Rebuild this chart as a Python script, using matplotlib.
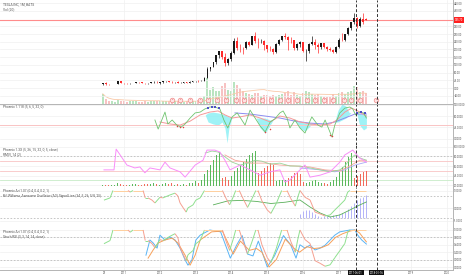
import numpy as np
import pandas as pd
import matplotlib
matplotlib.use("Agg")
import matplotlib.pyplot as plt
from matplotlib.collections import LineCollection

W, H = 466, 275
PX_PER_YEAR = 35.9
X2011 = 123.7
AX_RIGHT = 453
T0 = 2011 - X2011 / PX_PER_YEAR
T1 = 2011 + (AX_RIGHT - X2011) / PX_PER_YEAR

# ---------------- price data: monthly candles, Jun 2010 .. Oct 2017 ----------------
start_year, start_month = 2010, 6
opens = [19.0, 25.0, 20.0, 19.5, 20.5, 21.8, 35.0,
         26.8, 24.1, 23.9, 26.7, 27.6, 30.0, 29.2, 27.3, 24.4, 24.4, 29.4, 32.7,
         28.5, 29.1, 33.8, 37.2, 33.1, 29.5, 31.3, 27.0, 28.1, 29.3, 28.1, 32.9,
         33.9, 37.5, 34.8, 37.9, 54.0, 97.8, 107.4, 134.3, 169.0, 193.4, 160.0, 127.3,
         150.4, 181.4, 244.8, 208.5, 207.9, 207.8, 240.1, 223.3, 269.7, 242.7, 241.7, 244.5,
         222.4, 203.6, 203.3, 188.8, 226.0, 250.8, 268.3, 266.2, 249.1, 248.4, 206.9, 230.3,
         240.0, 191.2, 191.9, 229.8, 240.8, 223.2, 212.3, 234.8, 212.0, 204.0, 197.7, 189.4,
         213.7, 251.9, 250.0, 278.3, 314.1, 341.0, 361.6, 323.5, 355.9, 360.0]
highs = [25.0, 30.4, 21.0, 22.0, 22.0, 36.4, 35.5,
         28.0, 25.5, 28.0, 28.2, 31.0, 31.0, 30.0, 27.5, 26.0, 30.5, 35.0, 34.0,
         29.7, 35.5, 38.0, 38.0, 35.0, 33.5, 35.0, 30.5, 30.0, 30.5, 34.0, 35.0,
         38.0, 40.0, 39.0, 55.5, 110.0, 110.0, 136.0, 170.0, 194.5, 194.0, 181.0, 156.0,
         190.0, 260.0, 265.0, 230.0, 215.0, 243.0, 245.0, 272.0, 291.4, 262.0, 256.0, 248.0,
         223.0, 218.0, 208.0, 232.0, 256.0, 271.0, 286.0, 270.0, 266.0, 250.0, 233.0, 245.0,
         241.0, 201.0, 234.0, 269.0, 255.0, 236.0, 235.0, 236.0, 220.0, 214.0, 204.0, 220.0,
         260.0, 287.0, 281.0, 316.0, 342.0, 387.0, 368.0, 370.0, 389.6, 364.0]
lows = [17.5, 15.0, 17.0, 18.8, 19.5, 21.0, 26.0,
        22.0, 21.6, 21.5, 23.5, 26.5, 26.0, 26.5, 21.0, 22.5, 23.5, 28.0, 26.5,
        22.5, 28.5, 33.0, 32.0, 27.0, 28.0, 25.5, 26.5, 27.5, 26.0, 27.0, 32.0,
        33.0, 33.0, 34.0, 36.0, 54.0, 90.0, 107.0, 126.0, 158.0, 153.0, 116.1, 118.0,
        139.0, 178.0, 199.0, 187.0, 176.0, 201.0, 216.0, 222.0, 236.0, 207.0, 233.0, 196.0,
        185.0, 191.0, 178.0, 183.0, 222.0, 243.0, 253.0, 195.0, 236.0, 195.0, 199.0, 211.0,
        186.0, 141.1, 180.0, 224.0, 204.0, 182.0, 201.0, 209.0, 194.0, 194.0, 181.0, 183.0,
        210.0, 243.0, 244.0, 277.0, 299.0, 330.0, 313.0, 315.0, 335.0, 352.0]
closes = [23.9, 19.9, 19.5, 20.4, 21.8, 35.3, 26.6,
          24.1, 23.9, 26.7, 27.6, 30.2, 29.1, 27.3, 24.4, 24.4, 29.4, 32.7, 28.6,
          29.1, 33.8, 37.2, 33.1, 29.5, 31.3, 27.0, 28.1, 29.3, 28.1, 32.9, 33.9,
          37.5, 34.8, 37.9, 54.0, 97.8, 107.4, 134.3, 169.0, 193.4, 159.9, 127.3, 150.4,
          181.4, 244.8, 208.5, 207.9, 207.8, 240.1, 223.3, 269.7, 242.7, 241.7, 244.5, 222.4,
          203.6, 203.3, 188.8, 226.1, 250.8, 268.3, 266.2, 249.1, 248.4, 206.9, 230.3, 240.0,
          191.2, 191.9, 229.8, 240.8, 223.2, 212.3, 234.8, 212.0, 204.0, 197.7, 189.4, 213.7,
          251.9, 250.0, 278.3, 314.1, 341.0, 361.6, 323.5, 355.9, 341.1, 355.7]
volumes = [105, 45, 25, 22, 18, 40, 30,
           25, 20, 28, 22, 25, 20, 18, 22, 20, 25, 22, 24,
           28, 30, 25, 22, 30, 28, 30, 22, 20, 22, 30, 25,
           25, 40, 30, 80, 280, 150, 180, 130, 140, 190, 220, 150,
           140, 230, 200, 170, 130, 110, 100, 90, 110, 110, 80, 90,
           90, 85, 90, 80, 95, 100, 110, 130, 95, 120, 90, 80,
           110, 140, 120, 105, 90, 100, 80, 75, 70, 75, 100, 85,
           110, 120, 105, 120, 130, 190, 180, 120, 130, 110]
last_price = 355.70
earnings_t = [2012.35, 2012.58, 2012.85, 2013.13, 2013.35, 2013.60, 2013.85, 2014.13,
              2014.35, 2014.58, 2014.85, 2015.11, 2015.35, 2015.59, 2015.84, 2016.11,
              2016.34, 2016.59, 2016.82, 2017.14, 2017.34, 2017.58, 2018.04]

# ---------------- Phoenix 1.118 panel ----------------
p2_green_t = [2011.87, 2011.96, 2012.15, 2012.23, 2012.35, 2012.48, 2012.60, 2012.71, 2012.85, 2012.99,
              2013.13, 2013.26, 2013.40, 2013.54, 2013.68, 2013.79, 2013.90,
              2014.02, 2014.16, 2014.27, 2014.38, 2014.52, 2014.66, 2014.80, 2014.94,
              2015.08, 2015.21, 2015.35, 2015.44, 2015.55, 2015.63, 2015.77, 2015.91,
              2016.05, 2016.13, 2016.24, 2016.41, 2016.52, 2016.61, 2016.80, 2016.88,
              2017.02, 2017.16, 2017.30, 2017.38, 2017.46, 2017.57, 2017.68, 2017.76]
p2_green_v = [66, 34, 94, 52, 66, 48, 41, 52, 73, 91,
              94, 105, 112, 112, 105, 66, 38,
              77, 91, 70, 48, 101, 73, 45, 24,
              59, 70, 91, 98, 73, 38, 66, 38,
              20, 45, 77, 48, 41, 66, 6, 48,
              91, 108, 112, 105, 84, 94, 91, 73]
p2_red_t = [2012.01, 2012.29, 2012.57, 2012.85, 2013.13, 2013.40, 2013.63, 2013.82, 2014.02, 2014.24,
            2014.52, 2014.80, 2015.08, 2015.35, 2015.63, 2015.91, 2016.19, 2016.47, 2016.75, 2016.94,
            2017.16, 2017.35, 2017.52, 2017.76]
p2_red_v = [59, 52, 48, 62, 84, 94, 98, 84, 73, 77, 84, 73, 59, 80, 73, 59, 52, 48, 52, 66, 94, 108, 98, 80]
p2_purple_t = [2014.10, 2014.52, 2014.94, 2015.35, 2015.77, 2016.19, 2016.61, 2016.88, 2017.16, 2017.44, 2017.76]
p2_purple_v = [91, 87, 80, 73, 62, 55, 52, 59, 73, 87, 87]
p2_cyan_t = [2013.27, 2013.35, 2013.49, 2013.63, 2013.74, 2013.82, 2013.88, 2013.93, 2014.02,
             2014.69, 2014.80, 2014.94, 2015.08, 2015.16, 2015.80, 2015.91, 2016.05, 2016.19, 2016.27,
             2016.88, 2016.97, 2017.08, 2017.19, 2017.27, 2017.33, 2017.49, 2017.57, 2017.68, 2017.76]
p2_cyan_top = [84, 91, 94, 91, 87, 84, 80, 77, 77, 73, 73, 73, 66, 66, 62, 59, 55, 55, 55,
               59, 101, 122, 115, 94, 91, 91, 87, 87, 84]
p2_cyan_bot = [84, 59, 52, 48, 59, 38, -15, 38, 77, 73, 38, 20, 48, 66, 62, 38, 27, 45, 55,
               59, 59, 66, 73, 84, 91, 91, 48, 31, 38]
p2_reddot_t = [2012.48, 2012.57, 2012.65, 2014.94, 2015.08, 2016.75, 2016.80]
p2_reddot_v = [45, 41, 43, 22, 33, 12, 8]
p2_bluedot_t = [2013.35, 2013.45, 2013.55, 2013.65, 2017.49, 2017.60, 2017.72]
p2_bluedot_v = [110, 111, 111, 110, 90, 94, 91]

# ---------------- Phoenix 1.3X / RMVI panel ----------------
p3_mag_t = [2010.45, 2010.73, 2010.79, 2010.90, 2011.09, 2011.31, 2011.45, 2011.59, 2011.73, 2012.01,
            2012.15, 2012.29, 2012.57, 2012.71, 2012.99, 2013.21, 2013.32, 2013.54, 2013.68, 2013.82,
            2013.96, 2014.24, 2014.52, 2014.80, 2015.08, 2015.35, 2015.49, 2015.63, 2015.91, 2016.05,
            2016.19, 2016.47, 2016.75, 2017.02, 2017.16, 2017.38, 2017.57, 2017.76]
p3_mag_v = [52, 52, 95, 83, 62, 56, 58, 46, 56, 52,
            68, 56, 48, 37, 62, 72, 93, 93, 89, 72,
            52, 62, 52, 41, 48, 52, 27, 31, 52, 62,
            37, 41, 48, 68, 83, 93, 77, 68]
p3_green_t = [2013.27, 2013.46, 2013.63, 2013.82, 2014.02, 2014.24, 2014.46, 2014.66, 2014.85, 2015.08,
              2015.35, 2015.63, 2015.91, 2016.19, 2016.47, 2016.75, 2017.02, 2017.16, 2017.30, 2017.44,
              2017.57, 2017.76]
p3_green_v = [87, 91, 89, 79, 68, 62, 66, 72, 70, 64, 66, 60, 60, 56, 52, 48, 52, 60, 74, 83, 77, 72]
p3_salmon_t = [2013.82, 2014.10, 2014.52, 2014.94, 2015.35, 2015.77, 2016.19, 2016.61, 2017.02, 2017.30,
               2017.57, 2017.76]
p3_salmon_v = [83, 72, 66, 66, 62, 60, 58, 52, 50, 60, 72, 72]
p3_lav_t = [2015.91, 2016.47, 2016.88, 2017.16, 2017.44, 2017.76]
p3_lav_v = [56, 52, 48, 52, 62, 68]
p3_hist = [3, -2, -2, 2, 3, 6, -4,
           -3, -2, 3, 4, 5, -3, -3, -5, -4, 4, 6, -4,
           3, 5, 7, -4, -6, 3, -5, 3, 4, -3, 6, 7,
           10, -6, 12, 25, 34, 44, 54, 65, 71, -17, -20, -14,
           22, 32, 38, 44, 50, 57, 64, 70, 73, -27, -32, -37,
           -42, -48, -44, 10, 12, 14, 12, -17, -22, -27, -30, -26,
           -8, 6, 8, 10, 12, 9, 7, -6, -5, 8, 12, 20,
           30, 40, 50, 60, 69, -17, -22, -26, -29, -32]
p3_hist_base = 18

# ---------------- Phoenix Ari (0..1, shown in panels 4 & 5) ----------------
ari_t = [2010.45, 2010.62, 2010.70, 2011.12, 2011.18, 2011.26, 2011.54, 2011.60, 2011.68, 2011.79,
         2011.87, 2012.01, 2012.09, 2012.29, 2012.43, 2012.51, 2012.57, 2012.66, 2012.74, 2012.79,
         2012.93, 2013.01, 2013.13, 2013.25, 2013.75, 2013.85, 2013.95, 2014.05, 2014.12, 2014.22,
         2014.32, 2014.45, 2014.58, 2014.68, 2014.74, 2014.85, 2015.00, 2015.10, 2015.25, 2015.40,
         2015.55, 2015.65, 2015.78, 2015.85, 2015.91, 2016.05, 2016.19, 2016.33, 2016.47, 2016.61,
         2016.75, 2016.88, 2017.02, 2017.16, 2017.24, 2017.30, 2017.76]
ari_v = [0.63, 0.715, 1.0, 1.0, 0.94, 1.0, 1.0, 0.715, 0.715, 0.63,
         0.52, 0.74, 0.715, 0.83, 0.90, 0.79, 0.52, 0.33, 0.17, 0.33,
         0.445, 0.63, 0.715, 1.0, 1.0, 0.70, 0.45, 0.75, 1.0, 1.0,
         0.70, 0.35, 0.70, 1.0, 1.0, 0.60, 0.25, 0.12, 0.50, 1.0,
         1.0, 0.70, 0.40, 0.75, 1.0, 0.74, 0.635, 0.17, 0.10, 0.02,
         0.06, 0.25, 0.44, 0.635, 0.94, 1.0, 1.0]
ao_t = [2013.50, 2013.90, 2014.30, 2014.70, 2015.10, 2015.50, 2015.91, 2016.19, 2016.47, 2016.75,
        2017.02, 2017.30, 2017.57, 2017.76]
ao_v = [0.45, 0.60, 0.62, 0.58, 0.50, 0.55, 0.635, 0.365, 0.135, -0.02, 0.06, 0.25, 0.44, 0.56]
ao_bar_t = [2015.92, 2016.00, 2016.08, 2016.17, 2016.25, 2016.33, 2016.42, 2016.50, 2016.58, 2016.67,
            2016.75, 2016.83, 2016.92, 2017.00, 2017.08, 2017.17, 2017.25, 2017.33, 2017.42, 2017.50,
            2017.58, 2017.67, 2017.75]
ao_bar_v = [0.10, 0.20, 0.25, 0.25, 0.18, 0.10, 0.02, -0.02, 0.00, 0.02,
            0.03, 0.04, 0.06, 0.08, 0.12, 0.18, 0.28, 0.40, 0.52, 0.62,
            0.70, 0.76, 0.83]
ao_base = -0.06
ao_upper = 0.79

# ---------------- Stoch RSI ----------------
k_t = [2011.62, 2011.73, 2011.82, 2011.93, 2012.01, 2012.15, 2012.29, 2012.43, 2012.57, 2012.71,
       2012.79, 2012.90, 2013.01, 2013.13, 2013.40, 2013.70, 2013.97, 2014.15, 2014.30, 2014.45,
       2014.60, 2014.75, 2015.00, 2015.20, 2015.45, 2015.65, 2015.80, 2015.91, 2016.05, 2016.19,
       2016.33, 2016.47, 2016.61, 2016.75, 2016.88, 2017.02, 2017.30, 2017.44, 2017.52, 2017.63,
       2017.76]
k_v = [0.32, 0.73, 0.65, 0.51, 0.86, 0.73, 0.81, 0.73, 0.51, 0.19,
       0.05, 0.19, 0.73, 0.86, 1.0, 0.95, 0.24, 0.60, 0.85, 0.35,
       0.30, 0.70, 0.0, 0.30, 0.85, 0.60, 0.24, 0.60, 0.51, 0.59,
       0.46, 0.51, 0.59, 0.73, 0.86, 0.95, 1.0, 1.0, 0.86, 0.73,
       0.62]
d_t = [2011.68, 2011.82, 2011.96, 2012.15, 2012.35, 2012.51, 2012.71, 2012.85, 2012.99, 2013.13,
       2013.45, 2013.75, 2014.05, 2014.25, 2014.50, 2014.70, 2014.85, 2015.05, 2015.25, 2015.50,
       2015.75, 2015.90, 2016.10, 2016.30, 2016.50, 2016.70, 2016.90, 2017.10, 2017.30, 2017.44,
       2017.57, 2017.76]
d_v = [0.24, 0.46, 0.65, 0.73, 0.78, 0.65, 0.32, 0.05, 0.32, 0.73,
       0.95, 0.97, 0.35, 0.70, 0.45, 0.50, 0.40, 0.0, 0.20, 0.75,
       0.50, 0.40, 0.55, 0.50, 0.52, 0.60, 0.80, 0.90, 0.97, 1.0,
       0.92, 0.68]

# ---------------- labels ----------------
year_ticks = [2010.45, 2011, 2012, 2013, 2014, 2015, 2016, 2017, 2019, 2020]
year_labels = ["28", "2011", "2012", "2013", "2014", "2015", "2016", "2017", "2019", "2020"]
marker_dates = [2017.474, 2018.045]
marker_labels = ["2017-06-01", "2018-01-16"]

# =====================================================================
plt.rcParams['font.family'] = ['Roboto', 'DejaVu Sans']
fig = plt.figure(figsize=(W / 100, H / 100), dpi=100)
FS = 2.3      # legend / title text
FSA = 2.0     # axis labels
TXT = '#555555'
SEP = '#b4b4b4'


def style_y(ax, ticks, fmt):
    ax.yaxis.tick_right()
    ax.set_yticks(ticks)
    ax.set_yticklabels([fmt.format(v) for v in ticks])
    ax.tick_params(axis='y', labelsize=FSA, length=0, pad=0.8, colors=TXT,
                   left=False, labelleft=False, right=True, labelright=True)


def panel(y0, y1, ylim, ticks, fmt):
    ax = fig.add_axes([0, 1 - y1 / H, AX_RIGHT / W, (y1 - y0) / H])
    ax.set_xlim(T0, T1)
    ax.set_ylim(*ylim)
    for s in ('top', 'left'):
        ax.spines[s].set_visible(False)
    for s in ('right', 'bottom'):
        ax.spines[s].set_color(SEP)
        ax.spines[s].set_linewidth(0.7)
    style_y(ax, ticks, fmt)
    ax.set_xticks(year_ticks[1:])
    ax.tick_params(axis='x', length=0, labelbottom=False)
    ax.grid(True, color='#f0f0f0', lw=0.5)
    ax.set_axisbelow(True)
    for d in marker_dates:
        ax.axvline(d, color='#333333', lw=0.7, ls=(0, (3, 2)), zorder=6)
    return ax


def ftxt(x, y, s, **kw):
    fig.text(x / W, 1 - y / H, s, **kw)


# ---- panel 1: price ----
price_ticks = [440, 400, 320, 280, 240, 200, 160, 120, 80, 40, 0, -40]
ax1 = panel(0, 103.5, (-80.5, 457.1), price_ticks, "{:.2f}")
t_bars = np.array([start_year + (start_month - 1 + i) / 12 for i in range(len(closes))])
o = np.array(opens); c = np.array(closes); hi = np.array(highs); lo = np.array(lows)
up = c >= o
ccol = np.where(up, '#1a1a1a', '#ff2b2b')
bw = 1.9 / PX_PER_YEAR
# volume overlay
axv = ax1.twinx()
axv.set_ylim(0, max(volumes) * 4.0)
axv.axis('off')
axv.set_xlim(T0, T1)
style_y(ax1, price_ticks, "{:.2f}")   # twinx moves ticks left; put them back on the right
vcol = np.where(up, '#b9e4c0', '#f7c2c2')
axv.bar(t_bars, volumes, width=bw * 1.05, color=vcol, lw=0, zorder=1)
vma = pd.Series(volumes, dtype=float).rolling(20, min_periods=1).mean()
axv.plot(t_bars, vma, color='#f9c9a8', lw=0.6, zorder=2)
ax1.set_zorder(axv.get_zorder() + 1)
ax1.patch.set_visible(False)
ax1.vlines(t_bars, lo, hi, color=ccol, lw=0.5, zorder=3)
ax1.bar(t_bars, np.maximum(np.abs(c - o), 1.0), bottom=np.minimum(o, c), width=bw,
        color=ccol, lw=0, zorder=4)
ax1.axhline(last_price, color='#ff8c8c', lw=0.8, zorder=2)
ax1.scatter(earnings_t, [-62] * len(earnings_t), s=11, facecolor='#fde3e3',
            edgecolor='#f08a8a', lw=0.5, zorder=5)
for et in earnings_t:
    ax1.text(et, -62, "E", fontsize=1.5, color='#e06060', ha='center', va='center', zorder=6)
ftxt(3, 4, "TESLA INC, 1M, BATS", fontsize=FS, color=TXT, va='center')
ftxt(3, 9.5, "Vol (20)", fontsize=FS, color=TXT, va='center')
ftxt(AX_RIGHT + 1.8, 20, f"{last_price:.2f}", fontsize=FSA, color='white', va='center',
     bbox=dict(boxstyle='square,pad=0.3', fc='#ff2020', ec='none'), zorder=10)

# ---- panel 2: Phoenix 1.118 ----
ax2 = panel(103.5, 144.5, (-20.5, 124.3), [120, 80, 40, 0], "{:.4f}")
ax2.axhline(50, color='#f9c4c4', lw=0.7)
ax2.fill_between(p2_cyan_t, p2_cyan_top, p2_cyan_bot, color='#8ef0f5', lw=0, alpha=0.85)
ax2.plot(p2_purple_t, p2_purple_v, color='#8c8cf0', lw=0.7)
ax2.plot(p2_red_t, p2_red_v, color='#f59a9a', lw=0.7)
ax2.plot(p2_green_t, p2_green_v, color='#6fc46f', lw=0.6)
ax2.scatter(p2_reddot_t, p2_reddot_v, s=1.2, color='#e04040', lw=0, zorder=5)
ax2.scatter(p2_bluedot_t, p2_bluedot_v, s=1.5, color='#5050c8', marker='s', lw=0, zorder=5)
ftxt(3, 106.5, "Phoenix 1.118 (5, 6, 5, 32, 0)", fontsize=FS, color=TXT, va='center')

# ---- panel 3: Phoenix 1.3X / RMVI ----
ax3 = panel(144.5, 187, (16.5, 104.6), [100, 80, 60, 40, 20], "{:.4f}")
ax3.axhline(80, color='#bdbdbd', lw=0.6, ls=(0, (2, 2)))
ax3.axhline(70, color='#f9c4c4', lw=0.6)
ax3.axhline(50, color='#f9c4c4', lw=0.6)
ax3.axhline(30, color='#c8ebc8', lw=0.6)
h = np.array(p3_hist, dtype=float)
hcol = np.where(h >= 0, '#5cb85c', '#f26b5b')
ax3.bar(t_bars, np.abs(h), bottom=p3_hist_base, width=bw * 0.55, color=hcol, lw=0, zorder=2)
ax3.plot(p3_lav_t, p3_lav_v, color='#a9a9f5', lw=0.6, zorder=3)
ax3.plot(p3_salmon_t, p3_salmon_v, color='#f5a59a', lw=0.6, zorder=3)
ax3.plot(p3_green_t, p3_green_v, color='#9ad49a', lw=0.6, zorder=3)
ax3.plot(p3_mag_t, p3_mag_v, color='#f98ef9', lw=0.7, zorder=4)
ftxt(3, 149.5, "Phoenix 1.3X (5, 36, 15, 32, 0, 5, close)", fontsize=FS, color=TXT, va='center')
ftxt(3, 154, "RMVI_14 (2)", fontsize=FS, color=TXT, va='center')


def ari_line(ax, t, v):
    t = np.asarray(t); v = np.asarray(v)
    segs = [[(t[i], v[i]), (t[i + 1], v[i + 1])] for i in range(len(t) - 1)]
    cols = []
    for i in range(len(t) - 1):
        if v[i] >= 0.99 and v[i + 1] >= 0.99:
            cols.append('#ffcf9e')
        elif v[i + 1] >= v[i]:
            cols.append('#8fe08f')
        else:
            cols.append('#f5a091')
    ax.add_collection(LineCollection(segs, colors=cols, linewidths=0.7, zorder=4))


# ---- panel 4: Ari + AO signal ----
ax4 = panel(187, 227, (-0.404, 1.135), [1.0, 0.327, -0.173], "{:.4f}")
ax4.set_yticklabels(["1.0000", "0.0000", "-1.0000"])
ax4.axhline(ao_upper, color='#bdbdbd', lw=0.6, ls=(0, (2, 2)))
ax4.axhline(ao_base, color='#bdbdbd', lw=0.6, ls=(0, (2, 2)))
ax4.vlines(ao_bar_t, ao_base, ao_bar_v, color='#a7a7f7', lw=0.6, zorder=2)
ax4.plot(ao_t, ao_v, color='#5aaf5a', lw=0.6, zorder=3)
ari_line(ax4, ari_t, ari_v)
ftxt(3, 190.5, "Phoenix Ari 1.07 (0.4, 0.4, 0.2, 1)", fontsize=FS, color=TXT, va='center')
ftxt(3, 195.5, "Bill Williams, Awesome Oscillator (AO) Signal Line (34, 5, 26, 5/8, 25)",
     fontsize=FS, color=TXT, va='center')

# ---- panel 5: Ari + Stoch RSI ----
ax5 = panel(227, 270, (-0.081, 1.081), [1.0, 0.8, 0.6, 0.4, 0.2, 0.0], "{:.4f}")
ax5.axhline(0.8, color='#bdbdbd', lw=0.6, ls=(0, (2, 2)))
ax5.axhline(0.2, color='#bdbdbd', lw=0.6, ls=(0, (2, 2)))
ax5.plot(k_t, k_v, color='#5ab4f5', lw=0.7, zorder=3)
ax5.plot(d_t, d_v, color='#f7a05a', lw=0.7, zorder=3)
ari_line(ax5, ari_t, ari_v)
ftxt(3, 231.5, "Phoenix Ari 1.07 (0.4, 0.4, 0.2, 1)", fontsize=FS, color=TXT, va='center')
ftxt(3, 236.5, "Stoch RSI (3, 3, 14, 14, close)", fontsize=FS, color=TXT, va='center')

# ---- time axis labels ----
for yt, lab in zip(year_ticks, year_labels):
    xp = X2011 + (yt - 2011) * PX_PER_YEAR
    ftxt(xp, 272.5, lab, fontsize=FSA, color=TXT, ha='center', va='center')
for d, lab in zip(marker_dates, marker_labels):
    xp = X2011 + (d - 2011) * PX_PER_YEAR
    ftxt(xp, 272.5, lab, fontsize=FSA, color='white', ha='center', va='center',
         bbox=dict(boxstyle='square,pad=0.3', fc='#111111', ec='none'))

fig.savefig("out.png", dpi=100, facecolor='white')
